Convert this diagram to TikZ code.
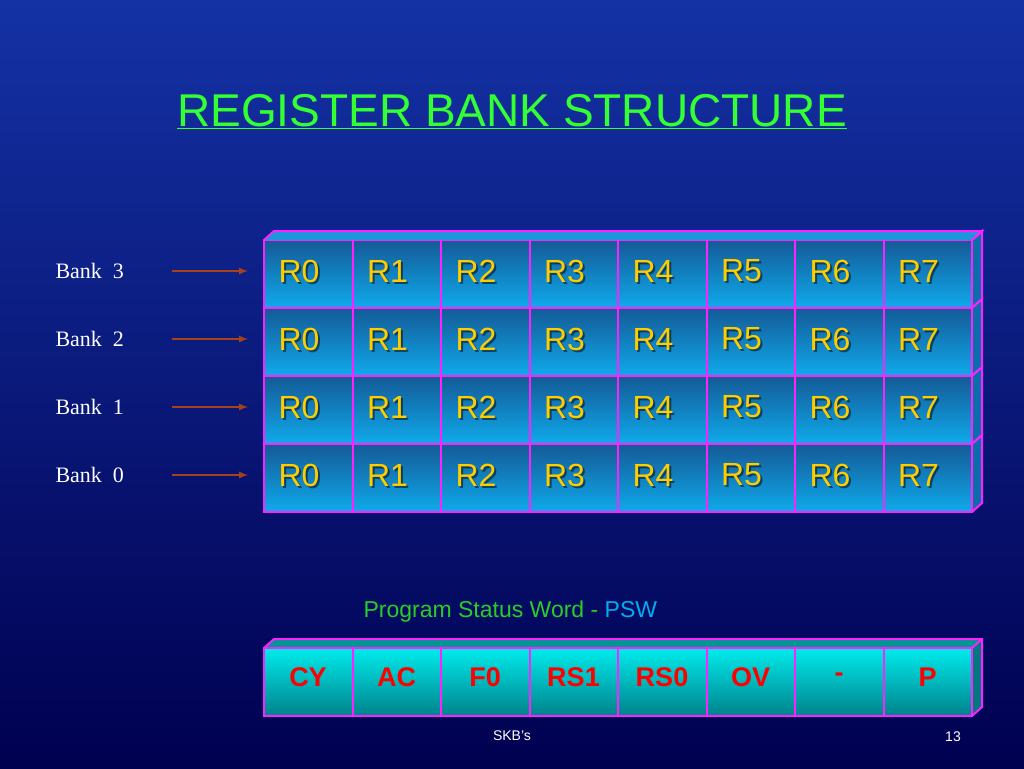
\documentclass[tikz,border=0pt]{standalone}
\usepackage{fontspec}
\setmainfont{Liberation Sans}
\newfontfamily\tms{Liberation Serif}
\definecolor{regyel}{HTML}{FFCC00}
\definecolor{arrbrown}{HTML}{A8401A}
\definecolor{mag}{HTML}{FF22FF}
\definecolor{ttl}{HTML}{33FF33}
\definecolor{bgtop}{RGB}{20,50,165}
\definecolor{bgbot}{RGB}{0,0,80}
\definecolor{rtop}{RGB}{20,90,150}
\definecolor{rbot}{RGB}{15,170,235}
\definecolor{rside}{RGB}{10,110,170}
\definecolor{rtopf}{RGB}{30,150,220}
\definecolor{ptop}{RGB}{0,235,235}
\definecolor{pbot}{RGB}{0,130,140}
\definecolor{ptopf}{RGB}{0,150,150}
\definecolor{pside}{RGB}{0,120,130}
\begin{document}
\begin{tikzpicture}[x=1pt,y=-1pt,
  reg/.style={font=\fontsize{32}{32}\selectfont,text=regyel,anchor=west},
  psw/.style={font=\bfseries\fontsize{27}{27}\selectfont,text=red},
  bank/.style={font=\tms\fontsize{22}{22}\selectfont,text=white,anchor=west},
  arr/.style={draw=arrbrown,line width=2pt,-latex},
  edge/.style={draw=mag,line width=2pt}]
\useasboundingbox (0,0) rectangle (1024,768);
\shade[top color=bgtop,bottom color=bgbot] (0,0) rectangle (1024,768);
\node[font=\fontsize{46}{46}\selectfont,text=ttl] (title) at (512,112) {\underline{REGISTER BANK STRUCTURE}};
% register rows
\foreach \r/\y in {3/240,2/308,1/376,0/444}{
  \shade[top color=rtop,bottom color=rbot] (264,\y) rectangle (972,\y+68);
  \fill[rside] (972,\y) -- (982,\y-9) -- (982,\y+59) -- (972,\y+68) -- cycle;
  \draw[edge] (972,\y) -- (982,\y-9) -- (982,\y+59) -- (972,\y+68);
  \draw[edge] (264,\y) rectangle (972,\y+68);
  \foreach \i in {1,...,7}{\draw[edge] (264+\i*88.5,\y) -- (264+\i*88.5,\y+68);}
  \foreach \i in {0,...,7}{
    \node[reg,text=black,opacity=.5] at (275+\i*88.5+2,\y+31+2) {R\i};
    \node[reg] (r\r c\i) at (275+\i*88.5,\y+31) {R\i};}
  \node[bank] (b\r) at (52,\y+31) {Bank~ \r};
  \coordinate (a\r) at (248,\y+31);
  \draw[arr] (172,\y+31) -- (a\r);
}
\fill[rtopf] (264,240) -- (274,231) -- (982,231) -- (972,240) -- cycle;
\draw[edge] (264,240) -- (274,231) -- (982,231) -- (972,240);
% PSW
\node[anchor=west,font=\fontsize{23}{23}\selectfont] (pswt) at (360,612) {\textcolor{ttl!80!black}{Program Status Word -} \textcolor{cyan}{PSW}};
\shade[top color=ptop,bottom color=pbot] (264,648) rectangle (972,716);
\fill[ptopf] (264,648) -- (274,639) -- (982,639) -- (972,648) -- cycle;
\fill[pside] (972,648) -- (982,639) -- (982,707) -- (972,716) -- cycle;
\draw[edge] (264,648) -- (274,639) -- (982,639) -- (982,707) -- (972,716);
\draw[edge] (972,648) -- (982,639);
\draw[edge] (264,648) rectangle (972,716);
\foreach \i in {1,...,7}{\draw[edge] (264+\i*88.5,648) -- (264+\i*88.5,716);}
\foreach \t [count=\i from 0] in {CY,AC,F0,RS1,RS0,OV,-,P}{
  \node[psw] (p\i) at (308+\i*88.5,677) {\t};}
\node[text=white,font=\fontsize{14}{14}\selectfont] (foot) at (512,736) {SKB's};
\node[text=white,font=\fontsize{14}{14}\selectfont] (pg) at (953,737) {13};
\end{tikzpicture}
\end{document}
